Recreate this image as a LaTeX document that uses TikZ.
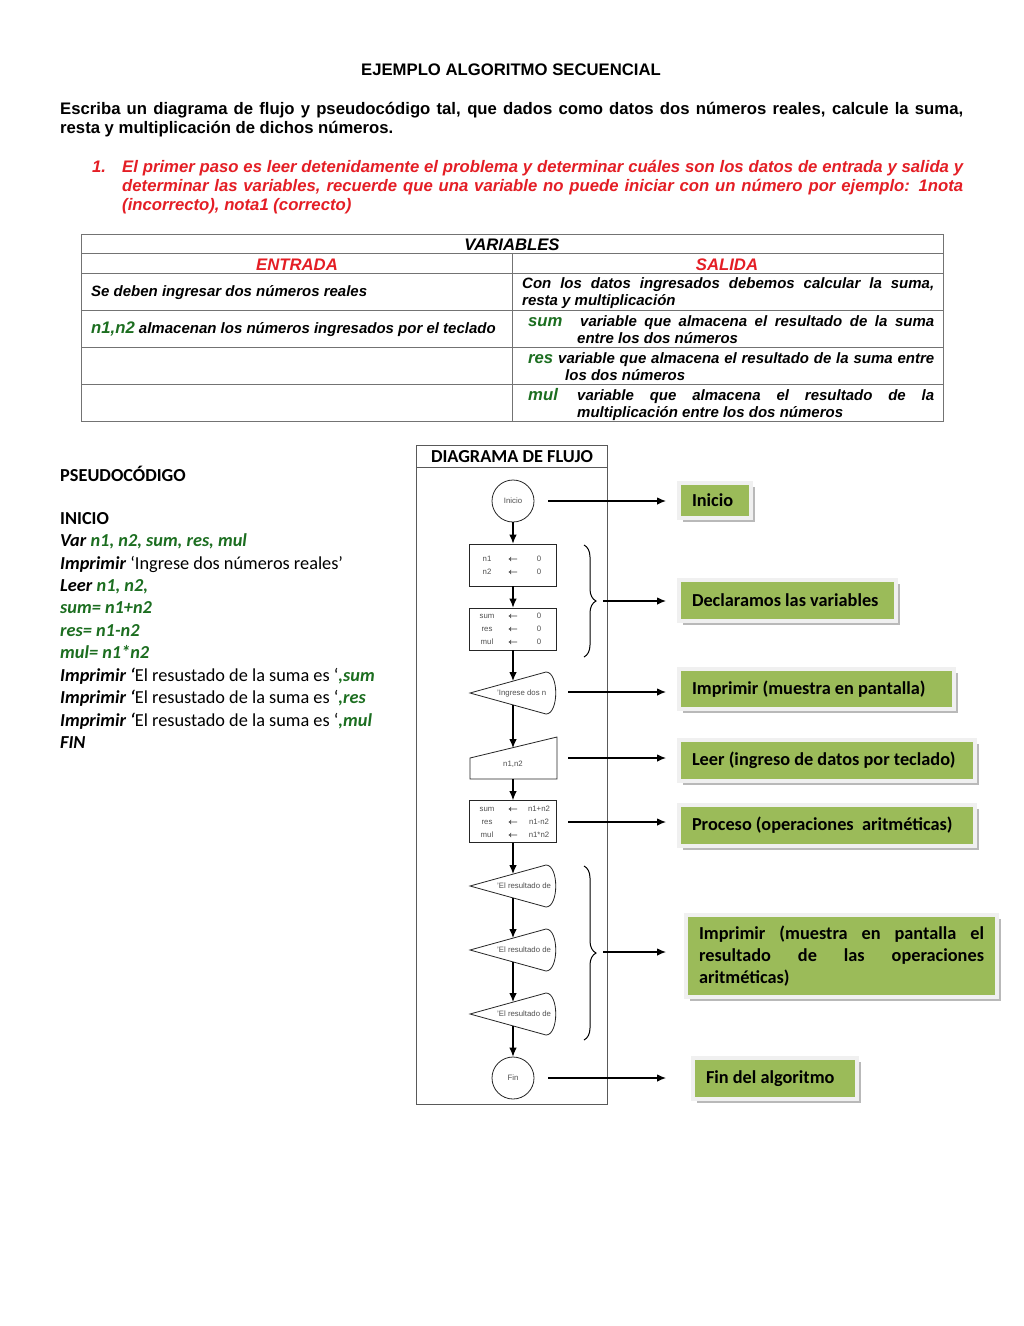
\documentclass[tikz,border=0pt]{standalone}
\usepackage{amsmath}
\usepackage{fontspec}
\setmainfont{Liberation Sans}
\newfontfamily\calibri{Carlito}
\usetikzlibrary{positioning,arrows.meta,decorations.pathreplacing,shadows}

\definecolor{rojo}{RGB}{228,30,37}
\definecolor{verdeosc}{RGB}{28,110,32}
\definecolor{verdecaja}{RGB}{155,187,89}
\definecolor{grisfc}{RGB}{80,80,80}

% tamanos de letra (1pt = 1px)
\newcommand{\tamA}{\fontsize{16.7}{19}\selectfont}
\newcommand{\tamB}{\fontsize{15}{17}\selectfont}
\newcommand{\tamC}{\calibri\fontsize{18.3}{22.4}\selectfont}
\newcommand{\tamD}{\fontsize{7.8}{13}\selectfont}
\newcommand{\bi}[1]{\textbf{\textit{#1}}}
\newcommand{\vbi}[1]{\textcolor{verdeosc}{\textbf{\textit{#1}}}}
\newcommand{\fila}[2]{\makebox[26pt]{#1}\makebox[26pt]{\textcolor{black}{$\boldsymbol{\leftarrow}$}}\makebox[26pt]{#2}}

\tikzset{
  txt/.style={anchor=base west, inner sep=0pt},
  tabla/.style={draw=black!55, line width=0.8pt},
  marco/.style={draw=black!65, line width=0.9pt},
  forma/.style={draw=black!85, line width=0.8pt},
  flecha/.style={-{Latex[length=9pt,width=7.5pt]}, line width=1.1pt},
  terminal/.style={circle, forma, minimum size=42pt, inner sep=0pt, font=\tamD, text=grisfc},
  proceso/.style={rectangle, forma, minimum width=87pt, minimum height=42pt, inner sep=0pt, align=center, font=\tamD, text=grisfc},
  llave/.style={decorate, decoration={brace, amplitude=12pt}, line width=1pt},
  etiqueta/.style={fill=verdecaja, draw=gray!12, line width=4pt, anchor=north west,
    drop shadow={shadow xshift=4pt, shadow yshift=-4pt, fill=gray!55, opacity=1},
    inner xsep=13pt, inner ysep=0pt, font=\tamC\bfseries, align=left}
}

% simbolo de pantalla (salida)
\newcommand{\pantalla}[3]{%
  \draw[forma] (470,#2) -- (546,#2-21) .. controls (559,#2-21) and (559,#2+21) .. (546,#2+21) -- cycle;
  \node[font=\tamD, text=grisfc, anchor=west, inner sep=0pt] (#1) at (497,#2) {#3};
  \coordinate (#1-in) at (513,#2-12);
  \coordinate (#1-out) at (513,#2+12);
}

\begin{document}
\begin{tikzpicture}[x=1pt,y=-1pt]
  \fill[white] (0,0) rectangle (1024,1326);
  \useasboundingbox (0,0) rectangle (1024,1326);

  % Enunciado
  \node[txt, anchor=base, font=\tamA\bfseries] (titulo) at (511,75) {EJEMPLO ALGORITMO SECUENCIAL};
  \node[txt, font=\tamA\bfseries] (enun1) at (60,114) {\makebox[903pt][s]{Escriba un diagrama de flujo y pseudocódigo tal, que dados como datos dos números reales, calcule la suma,}};
  \node[txt, font=\tamA\bfseries] (enun2) at (60,133) {resta y multiplicación de dichos números.};

  \node[txt, font=\tamA\bfseries\itshape, text=rojo] (num1) at (92,172) {1.};
  \node[txt, font=\tamA\bfseries\itshape, text=rojo] (paso1) at (122,172) {\makebox[841pt][s]{El primer paso es leer detenidamente el problema y determinar cuáles son los datos de entrada y salida y}};
  \node[txt, font=\tamA\bfseries\itshape, text=rojo] (paso2) at (122,191) {\makebox[841pt][s]{determinar las variables, recuerde que una variable no puede iniciar con un número por ejemplo: 1nota}};
  \node[txt, font=\tamA\bfseries\itshape, text=rojo] (paso3) at (122,210) {(incorrecto), nota1 (correcto)};

  % Tabla de variables
  \draw[tabla] (81,234) rectangle (943,421);
  \foreach \y in {253,273,310,347,384}
    \draw[tabla] (81,\y) -- (943,\y);
  \draw[tabla] (512,253) -- (512,421);

  \node[txt, anchor=base, font=\tamA\bfseries\itshape] (variables) at (512,250) {VARIABLES};
  \node[txt, anchor=base, font=\tamA\bfseries\itshape, text=rojo] (entrada) at (297,270) {ENTRADA};
  \node[txt, anchor=base, font=\tamA\bfseries\itshape, text=rojo] (salida) at (727,270) {SALIDA};

  \node[txt, font=\tamB\bfseries\itshape] (ent1) at (91,296) {Se deben ingresar dos números reales};
  \node[txt, font=\tamB\bfseries\itshape] (ent2) at (91,333) {{\tamA\color{verdeosc}n1,n2} almacenan los números ingresados por el teclado};

  \node[txt, font=\tamB\bfseries\itshape] (sal1a) at (522,288) {\makebox[412pt][s]{Con los datos ingresados debemos calcular la suma,}};
  \node[txt, font=\tamB\bfseries\itshape] (sal1b) at (522,305) {resta y multiplicación};
  \node[txt, font=\tamA\bfseries\itshape, text=verdeosc] (salsum) at (528,326) {sum};
  \node[txt, font=\tamB\bfseries\itshape] (sal2a) at (580,326) {\makebox[354pt][s]{variable que almacena el resultado de la suma}};
  \node[txt, font=\tamB\bfseries\itshape] (sal2b) at (577,343) {entre los dos números};
  \node[txt, font=\tamA\bfseries\itshape, text=verdeosc] (salres) at (528,363) {res};
  \node[txt, font=\tamB\bfseries\itshape] (sal3a) at (558,363) {\makebox[376pt][s]{variable que almacena el resultado de la suma entre}};
  \node[txt, font=\tamB\bfseries\itshape] (sal3b) at (565,380) {los dos números};
  \node[txt, font=\tamA\bfseries\itshape, text=verdeosc] (salmul) at (528,400) {mul};
  \node[txt, font=\tamB\bfseries\itshape] (sal4a) at (577,400) {\makebox[357pt][s]{variable que almacena el resultado de la}};
  \node[txt, font=\tamB\bfseries\itshape] (sal4b) at (577,417) {multiplicación entre los dos números};

  % Pseudocodigo
  \node[txt, font=\tamC\bfseries] (pseudo) at (60,481) {PSEUDOCÓDIGO};
  \node[txt, font=\tamC\bfseries] (pinicio) at (60,524) {INICIO};
  \node[txt, font=\tamC] (pvar) at (60,546) {\bi{Var} \vbi{n1, n2, sum, res, mul}};
  \node[txt, font=\tamC] (pimp) at (60,569) {\bi{Imprimir} ‘Ingrese dos números reales’};
  \node[txt, font=\tamC] (pleer) at (60,591) {\bi{Leer} \vbi{n1, n2,}};
  \node[txt, font=\tamC] (psum) at (60,613) {\vbi{sum= n1+n2}};
  \node[txt, font=\tamC] (pres) at (60,636) {\vbi{res= n1-n2}};
  \node[txt, font=\tamC] (pmul) at (60,658) {\vbi{mul= n1*n2}};
  \foreach \v/\yy in {sum/681,res/703,mul/726}
    \node[txt, font=\tamC] (pimp\v) at (60,\yy) {\bi{Imprimir ‘}El resustado de la suma es ‘\vbi{,\v}};
  \node[txt, font=\tamC] (pfin) at (60,748) {\bi{FIN}};

  % Diagrama de flujo
  \draw[marco] (416,445) rectangle (607,1104);
  \draw[marco] (416,467) -- (607,467);
  \node[txt, anchor=base, font=\tamC\bfseries] (titdiag) at (512,462) {DIAGRAMA DE FLUJO};

  \node[terminal] (inicio) at (513,501) {Inicio};
  \node[proceso] (decl1) at (513,565) {\fila{n1}{0}\\\fila{n2}{0}};
  \node[proceso] (decl2) at (513,629) {\fila{sum}{0}\\\fila{res}{0}\\\fila{mul}{0}};
  \pantalla{out1}{693}{’Ingrese dos n}
  \draw[forma] (470,758) -- (557,737) -- (557,779) -- (470,779) -- cycle;
  \node[font=\tamD, text=grisfc, inner sep=0pt] (leer) at (513,764) {n1,n2};
  \coordinate (leer-in) at (513,748);
  \coordinate (leer-out) at (513,779);
  \node[proceso] (proc) at (513,821.5) {\fila{sum}{n1+n2}\\\fila{res}{n1-n2}\\\fila{mul}{n1*n2}};
  \pantalla{out2}{886}{’El resultado de}
  \pantalla{out3}{950}{’El resultado de}
  \pantalla{out4}{1014}{’El resultado de}
  \node[terminal] (fin) at (513,1078) {Fin};

  \draw[flecha] (inicio) -- (decl1);
  \draw[flecha] (decl1) -- (decl2);
  \draw[flecha] (decl2) -- (out1-in);
  \draw[flecha] (out1-out) -- (leer-in);
  \draw[flecha] (leer-out) -- (proc);
  \draw[flecha] (proc) -- (out2-in);
  \draw[flecha] (out2-out) -- (out3-in);
  \draw[flecha] (out3-out) -- (out4-in);
  \draw[flecha] (out4-out) -- (fin);

  % Llaves
  \draw[llave] (584,545) -- (584,657);
  \draw[llave] (584,866) -- (584,1040);

  % Etiquetas
  \node[etiqueta, minimum height=35pt] (etInicio) at (677,481) {\makebox[46pt][l]{Inicio}};
  \node[etiqueta, minimum height=41pt] (etDecl) at (677,578) {\makebox[191pt][l]{Declaramos las variables}};
  \node[etiqueta, minimum height=40pt] (etImp) at (677,667) {\makebox[249pt][l]{Imprimir (muestra en pantalla)}};
  \node[etiqueta, minimum height=41pt] (etLeer) at (677,738) {\makebox[270pt][l]{Leer (ingreso de datos por teclado)}};
  \node[etiqueta, minimum height=41pt] (etProc) at (677,803) {\makebox[270pt][l]{Proceso (operaciones~ aritméticas)}};
  \node[etiqueta, minimum height=82pt, inner xsep=13pt] (etRes) at (684,913)
    {\makebox[285pt][s]{Imprimir (muestra en pantalla el}\\\makebox[285pt][s]{resultado de las operaciones}\\\makebox[285pt][l]{aritméticas)}};
  \node[etiqueta, minimum height=41pt, inner xsep=13pt] (etFin) at (691,1056) {\makebox[138pt][l]{Fin del algoritmo}};

  \coordinate (sInicio) at (548,501);
  \coordinate (sDecl) at (603,601);
  \coordinate (sImp) at (568,692);
  \coordinate (sLeer) at (568,758);
  \coordinate (sProc) at (568,822);
  \coordinate (sRes) at (603,952);
  \coordinate (sFin) at (548,1078);
  \draw[flecha, shorten >=11pt] (sInicio) -- (sInicio -| etInicio.west);
  \draw[flecha, shorten >=11pt] (sDecl) -- (sDecl -| etDecl.west);
  \draw[flecha, shorten >=11pt] (sImp) -- (sImp -| etImp.west);
  \draw[flecha, shorten >=11pt] (sLeer) -- (sLeer -| etLeer.west);
  \draw[flecha, shorten >=11pt] (sProc) -- (sProc -| etProc.west);
  \draw[flecha, shorten >=18pt] (sRes) -- (sRes -| etRes.west);
  \draw[flecha, shorten >=25pt] (sFin) -- (sFin -| etFin.west);
\end{tikzpicture}
\end{document}
